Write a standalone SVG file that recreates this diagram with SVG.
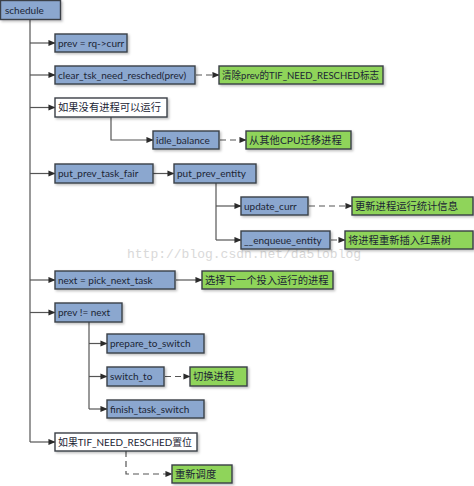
<svg xmlns="http://www.w3.org/2000/svg" width="474" height="486" viewBox="0 0 474 486">
<defs>
<marker id="ah" viewBox="0 0 8 8" refX="7.5" refY="4" markerWidth="7" markerHeight="7" markerUnits="userSpaceOnUse" orient="auto">
<path d="M0,0.5 L8,4 L0,7.5 Z" fill="#2b2b2b"/>
</marker>
<filter id="sh" x="-10%" y="-20%" width="120%" height="150%">
<feDropShadow dx="1.5" dy="1.5" stdDeviation="1" flood-color="#000" flood-opacity="0.25"/>
</filter>
</defs>
<style>
.b{fill:#8ba7cf;stroke:#3a3f47;stroke-width:1.4;filter:url(#sh)}
.g{fill:#8fd45a;stroke:#3a3f47;stroke-width:1.4;filter:url(#sh)}
.w{fill:#ffffff;stroke:#3a3f47;stroke-width:1.4;filter:url(#sh)}
.t{font-family:Lato,"Liberation Sans","Noto Sans CJK SC",sans-serif;font-size:10px;fill:#1b2535}
.c{font-family:Lato,"Liberation Sans","Noto Sans CJK SC",sans-serif;font-size:10.3px;fill:#1b2535}
.l{fill:none;stroke:#555;stroke-width:1.2}
.a{marker-end:url(#ah)}
.d{stroke-dasharray:6,4}
.wm{font-family:"Liberation Mono",monospace;font-size:13px;fill:#d9d9d9}
</style>
<rect width="474" height="486" fill="#ffffff"/>
<text class="wm" x="127" y="258">http://blog.csdn.net/da5loblog</text>
<g id="connectors">
<path class="l" d="M30,19 V442"/>
<path class="l a" d="M30,43 H55"/>
<path class="l a" d="M30,75 H55"/>
<path class="l a" d="M30,107.5 H55"/>
<path class="l a" d="M30,173.5 H55"/>
<path class="l a" d="M30,280 H55"/>
<path class="l a" d="M30,312.5 H55"/>
<path class="l a" d="M30,442 H55"/>
<path class="l a d" d="M196,75 H219"/>
<path class="l a" d="M111,117 V140 H153"/>
<path class="l a d" d="M220,140 H246"/>
<path class="l a" d="M153,173.5 H174"/>
<path class="l" d="M216,183 V240"/>
<path class="l a" d="M216,206 H241"/>
<path class="l a" d="M216,240 H241"/>
<path class="l a d" d="M309,206 H352"/>
<path class="l a d" d="M331,240 H345"/>
<path class="l a" d="M176,280 H202"/>
<path class="l" d="M89,322 V409"/>
<path class="l a" d="M89,343.5 H107"/>
<path class="l a" d="M89,376.5 H107"/>
<path class="l a" d="M89,409 H107"/>
<path class="l a d" d="M165,376.5 H190"/>
<path class="l a d" d="M126,451 V474 H172"/>
</g>
<g id="n-schedule"><rect class="b" x="0.5" y="0.5" width="60" height="19"/><text class="t" x="5" y="13.5">schedule</text></g>
<g id="n-prev"><rect class="b" x="55" y="34" width="72" height="18"/><text class="t" x="58" y="46.5">prev = rq-&gt;curr</text></g>
<g id="n-clear"><rect class="b" x="55" y="66" width="140" height="18"/><text class="t" x="58" y="78.5">clear_tsk_need_resched(prev)</text></g>
<g id="n-clear-note"><rect class="g" x="219" y="66" width="164" height="18"/><text class="c" x="222" y="78.5" textLength="157" lengthAdjust="spacingAndGlyphs">清除prev的TIF_NEED_RESCHED标志</text></g>
<g id="n-ifnone"><rect class="w" x="55" y="98" width="112" height="19"/><text class="c" x="58" y="111">如果没有进程可以运行</text></g>
<g id="n-idle"><rect class="b" x="153" y="131" width="66" height="18"/><text class="t" x="156" y="143.5">idle_balance</text></g>
<g id="n-idle-note"><rect class="g" x="246" y="131" width="105" height="18"/><text class="c" x="249" y="143.5">从其他CPU迁移进程</text></g>
<g id="n-pptf"><rect class="b" x="55" y="164" width="98" height="19"/><text class="t" x="58" y="177">put_prev_task_fair</text></g>
<g id="n-ppe"><rect class="b" x="174" y="164" width="82" height="19"/><text class="t" x="177" y="177">put_prev_entity</text></g>
<g id="n-update"><rect class="b" x="241" y="197" width="67" height="18"/><text class="t" x="244" y="209.5">update_curr</text></g>
<g id="n-update-note"><rect class="g" x="352" y="197" width="121" height="18"/><text class="c" x="355" y="209.5">更新进程运行统计信息</text></g>
<g id="n-enqueue"><rect class="b" x="241" y="231" width="89" height="18"/><text class="t" x="244" y="243.5">__enqueue_entity</text></g>
<g id="n-enqueue-note"><rect class="g" x="345" y="231" width="128" height="18"/><text class="c" x="348" y="243.5">将进程重新插入红黑树</text></g>
<g id="n-pick"><rect class="b" x="55" y="271" width="120" height="18"/><text class="t" x="58" y="283.5">next = pick_next_task</text></g>
<g id="n-pick-note"><rect class="g" x="202" y="271" width="131" height="18"/><text class="c" x="205" y="283.5">选择下一个投入运行的进程</text></g>
<g id="n-neq"><rect class="b" x="55" y="303" width="67" height="19"/><text class="t" x="58" y="316">prev != next</text></g>
<g id="n-prepare"><rect class="b" x="107" y="334" width="97" height="19"/><text class="t" x="110" y="347">prepare_to_switch</text></g>
<g id="n-switch"><rect class="b" x="107" y="367" width="57" height="19"/><text class="t" x="110" y="380">switch_to</text></g>
<g id="n-switch-note"><rect class="g" x="190" y="367" width="57" height="19"/><text class="c" x="193" y="380">切换进程</text></g>
<g id="n-finish"><rect class="b" x="107" y="400" width="97" height="18"/><text class="t" x="110" y="412.5">finish_task_switch</text></g>
<g id="n-iftif"><rect class="w" x="55" y="433" width="142" height="18"/><text class="c" x="58" y="445.5" textLength="134" lengthAdjust="spacingAndGlyphs">如果TIF_NEED_RESCHED置位</text></g>
<g id="n-resched"><rect class="g" x="172" y="465" width="60" height="18"/><text class="c" x="175" y="477.5">重新调度</text></g>
</svg>
